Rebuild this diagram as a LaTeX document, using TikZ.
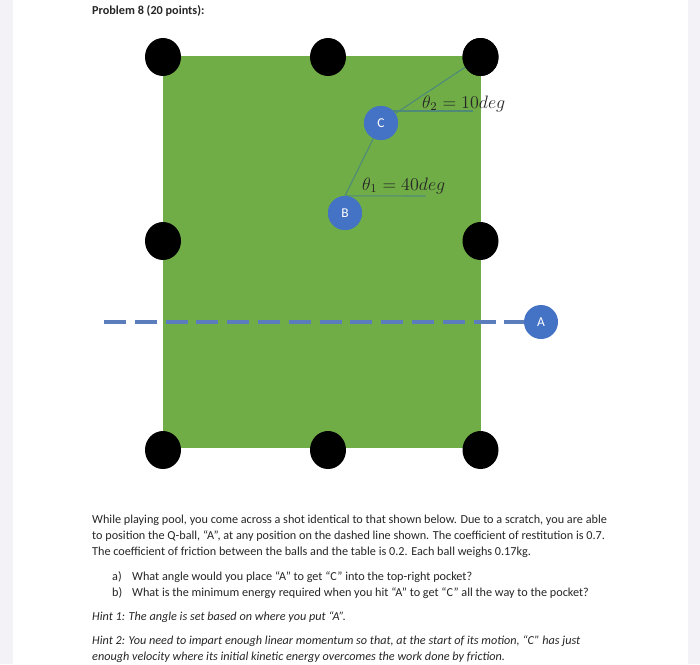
\documentclass[tikz,border=0pt]{standalone}
\usepackage{fontspec}
\setmainfont{Carlito}
\definecolor{tablegreen}{HTML}{70AD47}
\definecolor{ballblue}{HTML}{4472C4}
\definecolor{dashblue}{HTML}{5B7DBB}
\definecolor{pagegray}{HTML}{F2F2F7}
\definecolor{linegreen}{HTML}{4F8A78}
\definecolor{inktext}{HTML}{262626}
\tikzset{
  pocket/.style={ellipse,fill=black,minimum width=36pt,minimum height=38pt,inner sep=0pt},
  ball/.style={circle,fill=ballblue,minimum size=34pt,inner sep=0pt,text=white,font=\fontsize{13.5}{15}\selectfont},
  aimline/.style={linegreen,line width=1.1pt},
  body/.style={anchor=base west,inner sep=0pt,text=inktext,font=\fontsize{12.2}{14}\selectfont},
  hint/.style={body,font=\fontsize{12.2}{14}\selectfont\itshape},
  angle label/.style={anchor=base west,inner sep=0pt,text=black!85,font=\fontsize{12}{14}\selectfont}
}
\usetikzlibrary{shapes.geometric}
\begin{document}
\begin{tikzpicture}[x=1pt,y=-1pt]
\useasboundingbox (0,0) rectangle (700,664);
\fill[pagegray] (0,0) rectangle (700,664);
\fill[white] (13,0) rectangle (688,664);
\node[body,font=\fontsize{12.2}{14}\selectfont\bfseries] (title) at (92,14) {Problem 8 (20 points):};
\fill[tablegreen] (163,55.5) rectangle (481,448);
\node[pocket] (p1) at (163,57) {};
\node[pocket] (p2) at (328,57) {};
\node[pocket] (p3) at (480.5,57) {};
\node[pocket] (p4) at (163,241) {};
\node[pocket] (p5) at (480.5,241) {};
\node[pocket] (p6) at (163,450) {};
\node[pocket] (p7) at (328,450) {};
\node[pocket] (p8) at (480.5,450) {};
\node[ball] (A) at (541,322) {A};
\node[ball] (B) at (345,213) {B};
\node[ball] (C) at (381,123) {C};
\coordinate (lineL) at (104,322);
\coordinate (endC) at (473,111);
\coordinate (endB) at (425.5,196);
\draw[dashblue,line width=3.2pt,dash pattern=on 22pt off 8.8pt] (lineL) -- (A.west);
\draw[aimline] (B.north) -- (C);
\draw[aimline] (C) -- (p3);
\draw[aimline] (C.north east |- endC) -- (endC);
\draw[aimline] (B.north) -- (endB);
\node[ball] at (C) {C};
\node[ball] at (B) {B};
\node[pocket] at (p3) {};
\node[angle label] (t2) at (422,108) {\scalebox{1.5}{$\theta_2 = 10deg$}};
\node[angle label] (t1) at (362,190) {\scalebox{1.5}{$\theta_1 = 40deg$}};
\node[body] (l1) at (92,523.5) {While playing pool, you come across a shot identical to that shown below. Due to a scratch, you are able};
\node[body] (l2) at (92,539.5) {to position the Q-ball, “A”, at any position on the dashed line shown. The coefficient of restitution is 0.7.};
\node[body] (l3) at (92,555) {The coefficient of friction between the balls and the table is 0.2. Each ball weighs 0.17kg.};
\node[body] (a1) at (112,580.5) {a)};
\node[body] (a2) at (132,580.5) {What angle would you place “A” to get “C” into the top-right pocket?};
\node[body] (b1) at (112,596.5) {b)};
\node[body] (b2) at (132,596.5) {What is the minimum energy required when you hit “A” to get “C” all the way to the pocket?};
\node[hint] (h1) at (92,620.5) {Hint 1: The angle is set based on where you put “A”.};
\node[hint] (h2) at (92,644.5) {Hint 2: You need to impart enough linear momentum so that, at the start of its motion, “C” has just};
\node[hint] (h3) at (92,660.5) {enough velocity where its initial kinetic energy overcomes the work done by friction.};
\end{tikzpicture}
\end{document}
